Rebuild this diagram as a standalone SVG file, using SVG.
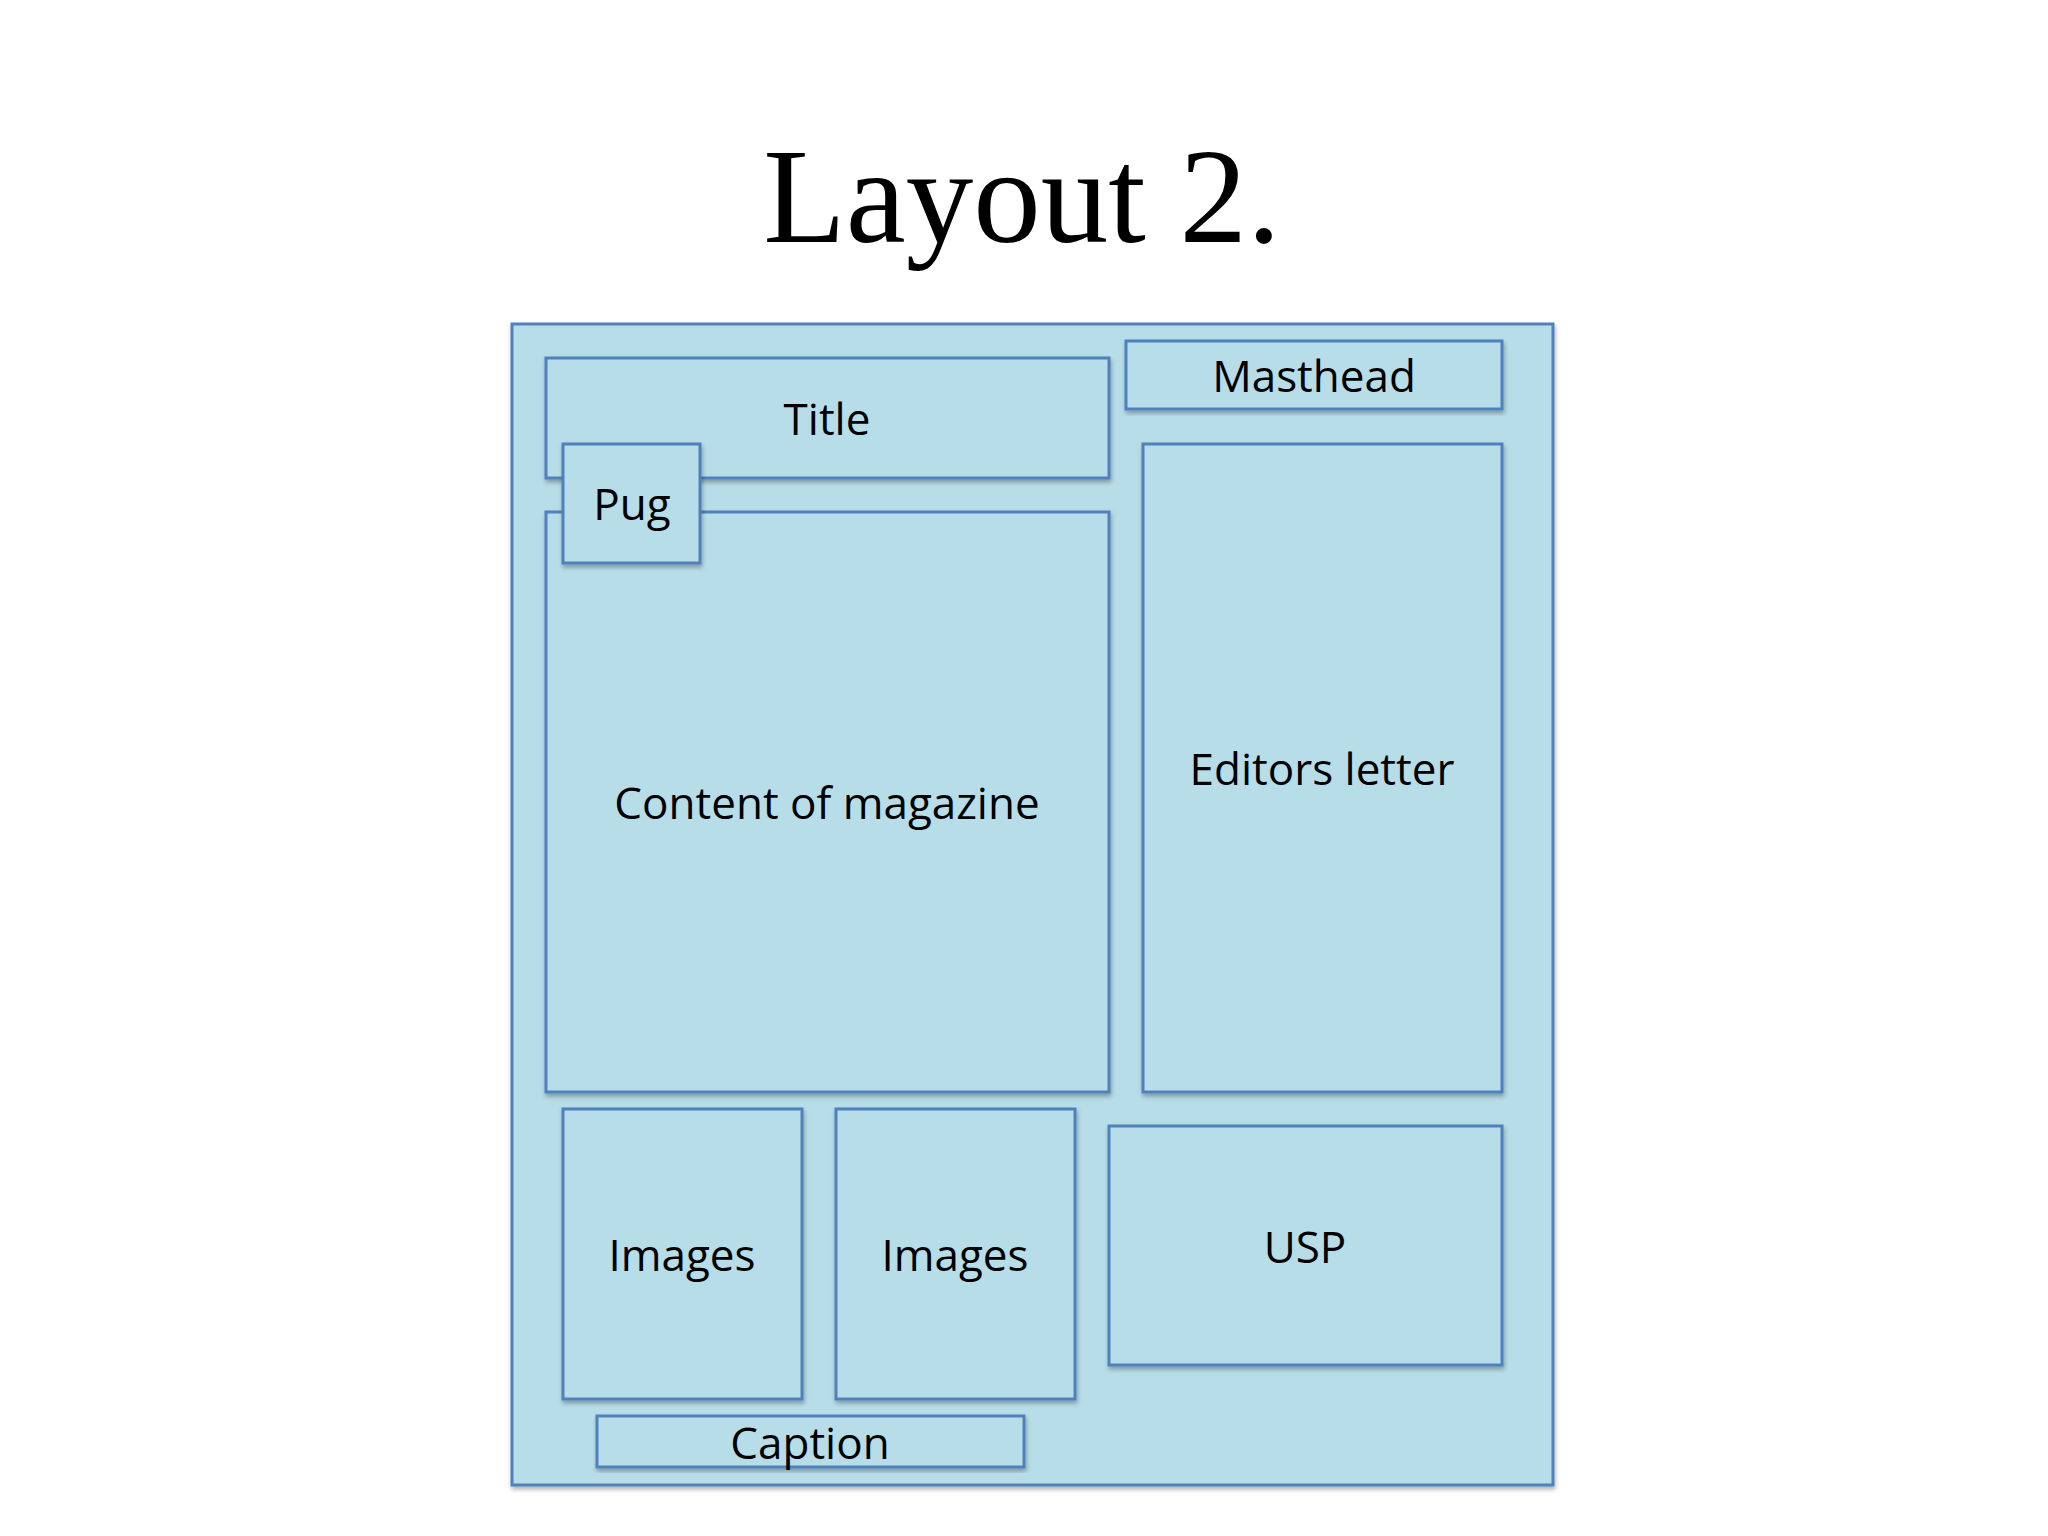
<svg xmlns="http://www.w3.org/2000/svg" width="2048" height="1536" viewBox="0 0 2048 1536">
<style>
.b{fill:#b7dde8;stroke:#4f81bd;stroke-width:3;filter:url(#sh)}
.t{font-family:"Open Sans","Noto Sans",sans-serif;font-size:44px;text-anchor:middle;fill:#000}
</style>
<defs><filter id="sh" x="-5%" y="-5%" width="110%" height="115%"><feDropShadow dx="1" dy="3" stdDeviation="2" flood-color="#000" flood-opacity="0.3"/></filter></defs>
<rect width="2048" height="1536" fill="#fff"/>
<text x="1022" y="242" font-family="'Liberation Serif',serif" font-size="135" text-anchor="middle">Layout 2.</text>
<g id="page"><rect class="b" x="512" y="324" width="1041" height="1161"/></g>
<g id="title"><rect class="b" x="546" y="358" width="563" height="120"/><text class="t" x="827" y="435">Title</text></g>
<g id="masthead"><rect class="b" x="1126" y="341" width="376" height="68"/><text class="t" x="1314" y="392">Masthead</text></g>
<g id="content"><rect class="b" x="546" y="512" width="563" height="580"/><text class="t" x="827" y="819">Content of magazine</text></g>
<g id="pug"><rect class="b" x="563" y="444" width="137" height="119"/><text class="t" x="632" y="520">Pug</text></g>
<g id="editors"><rect class="b" x="1143" y="444" width="359" height="648"/><text class="t" x="1322" y="785">Editors letter</text></g>
<g id="images1"><rect class="b" x="563" y="1109" width="239" height="290"/><text class="t" x="682" y="1271">Images</text></g>
<g id="images2"><rect class="b" x="836" y="1109" width="239" height="290"/><text class="t" x="955" y="1271">Images</text></g>
<g id="usp"><rect class="b" x="1109" y="1126" width="393" height="239"/><text class="t" x="1305" y="1263">USP</text></g>
<g id="caption"><rect class="b" x="597" y="1416" width="427" height="51"/><text class="t" x="810" y="1459">Caption</text></g>
<g id="connectors"/>
</svg>
